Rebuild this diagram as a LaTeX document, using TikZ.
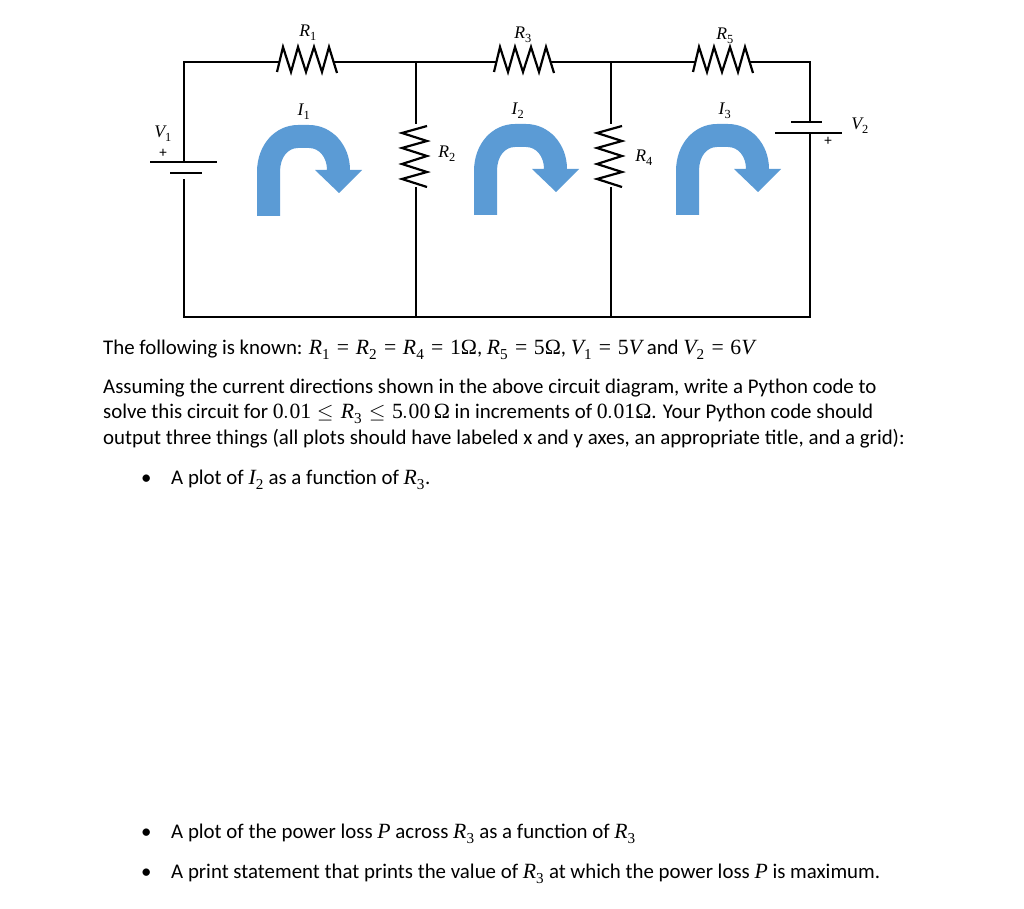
\documentclass[tikz,border=0pt]{standalone}
\usepackage{fontspec}
\usepackage{unicode-math}
\setmainfont{Carlito}
\setmathfont{Latin Modern Math}
\setmathfont{Liberation Serif Italic}[range=it->up, Scale=1.04]
\setmathfont{Liberation Serif}[range={up/{num,Greek},"003D}, Scale=1.04]
\usetikzlibrary{positioning}
\usetikzlibrary{calc}
\definecolor{myblue}{RGB}{91,155,213}
\newcommand{\sizetext}{\fontsize{20.87}{24}\selectfont}
\newcommand{\sizelabel}{\fontsize{17}{20}\selectfont}
\tikzset{
    wire/.style={line width=1.9pt},
    zigzag/.style={line width=2.2pt, line join=miter},
    line/.style={anchor=base west, inner sep=0pt, font=\sizetext},
    value/.style={inner sep=0pt, font=\sizelabel},
    sign/.style={inner sep=0pt, font=\fontsize{15}{17}\selectfont},
    reshoriz/.pic={
        \draw[zigzag] (-30,10)--(-24,-15)--(-16,10)--(-9,-15)--(-1,10)--(7,-15)--(15,10)--(22,-15)--(30,11);
        \coordinate (-w) at (-27.6,0);
        \coordinate (-e) at (26.6,0);
    },
    resvert/.pic={
        \draw[zigzag] (11,-30)--(-14,-23)--(11,-15)--(-14,-8)--(11,0)--(-14,8)--(11,16)--(-14,23)--(11,31);
        \coordinate (-n) at (0,-32);
        \coordinate (-s) at (0,31);
    },
    uturn/.pic={
        \fill[myblue] (0,91) -- (0,47) .. controls (0,20) and (18,0) .. (41,0)
            -- (52,0) .. controls (75,0) and (93,20) .. (93,45)
            -- (105,45) -- (82,68) -- (58,45) -- (70,45)
            .. controls (70,32) and (62,23) .. (52,23) -- (41,23)
            .. controls (31,23) and (23,32) .. (23,47) -- (23,91) -- cycle;
    },
}
\begin{document}
\thickmuskip=5.8mu
\begin{tikzpicture}[x=1pt, y=-1pt]
    \useasboundingbox (0,0) rectangle (1024,909);

    % corners and junctions
    \coordinate (TL) at (184,62);
    \coordinate (TA) at (416,62);
    \coordinate (TB) at (611,62);
    \coordinate (TR) at (810,62);
    \coordinate (BL) at (184,317);
    \coordinate (BA) at (416,317);
    \coordinate (BB) at (611,317);
    \coordinate (BR) at (810,317);

    % resistors
    \pic (R1) at (307,62) {reshoriz};
    \pic (R3) at (524,62) {reshoriz};
    \pic (R5) at (723,62) {reshoriz};
    \pic (R2) at (416,156) {resvert};
    \pic (R4) at (611,156) {resvert};

    % batteries
    \coordinate (V1top) at (184,162);
    \coordinate (V1bot) at (184,179);
    \coordinate (V2top) at (810,122);
    \coordinate (V2bot) at (810,133);
    \draw[wire] ($(V1top)+(-34,0)$) -- ($(V1top)+(33,0)$);
    \draw[wire] (170,173) -- (202,173);
    \draw[wire] ($(V2top)+(-19,0)$) -- ($(V2top)+(12,0)$);
    \draw[wire] ($(V2bot)+(-35,0)$) -- ($(V2bot)+(32,0)$);

    % wires
    \draw[wire] (V1top) -- (TL) -- (R1-w);
    \draw[wire] (R1-e) -- (TA) -- (R3-w);
    \draw[wire] (R3-e) -- (TB) -- (R5-w);
    \draw[wire] (R5-e) -- (TR) -- (V2top);
    \draw[wire] (V2bot) -- (BR) -- (BL) -- (V1bot);
    \draw[wire] (TA) -- (R2-n);
    \draw[wire] (R2-s) -- (BA);
    \draw[wire] (TB) -- (R4-n);
    \draw[wire] (R4-s) -- (BB);

    % loop currents
    \pic at (257,125) {uturn};
    \pic at (474,124) {uturn};
    \pic at (676,124) {uturn};

    % labels
    \node[value] (labR1) at (308,33) {$R_1$};
    \node[value] (labR3) at (523,35) {$R_3$};
    \node[value] (labR5) at (725,36) {$R_5$};
    \node[value] (labR2) at (447,154) {$R_2$};
    \node[value] (labR4) at (644,158) {$R_4$};
    \node[value] (labI1) at (304,112) {$I_1$};
    \node[value] (labI2) at (518,111) {$I_2$};
    \node[value] (labI3) at (725,111) {$I_3$};
    \node[value] (labV1) at (163,134) {$V_1$};
    \node[value] (labV2) at (860,126) {$V_2$};
    \node[sign] (plusV1) at (163,153) {+};
    \node[sign] (plusV2) at (828,141) {+};

    % text
    \node[line] (known) at (103,354) {The following is known: $R_1=R_2=R_4=1\Omega$, $R_5=5\Omega$, $V_1=5V$ and $V_2=6V$};
    \node[line] (assume) at (103,393) {Assuming the current directions shown in the above circuit diagram, write a Python code to};
    \node[line] (solve) at (103,418) {solve this circuit for $0.01\leq R_3\leq 5.00\,\Omega$ in increments of $0.01\Omega$. Your Python code should};
    \node[line] (output) at (103,444) {output three things (all plots should have labeled x and y axes, an appropriate title, and a grid):};
    \node[line] (dotA) at (141,484) {\textbullet};
    \node[line] (itemA) at (171,484) {A plot of $I_2$ as a function of $R_3$.};
    \node[line] (dotB) at (141,838) {\textbullet};
    \node[line] (itemB) at (171,838) {A plot of the power loss $P$ across $R_3$ as a function of $R_3$};
    \node[line] (dotC) at (141,878) {\textbullet};
    \node[line] (itemC) at (171,878) {A print statement that prints the value of $R_3$ at which the power loss $P$ is maximum.};
\end{tikzpicture}
\end{document}
